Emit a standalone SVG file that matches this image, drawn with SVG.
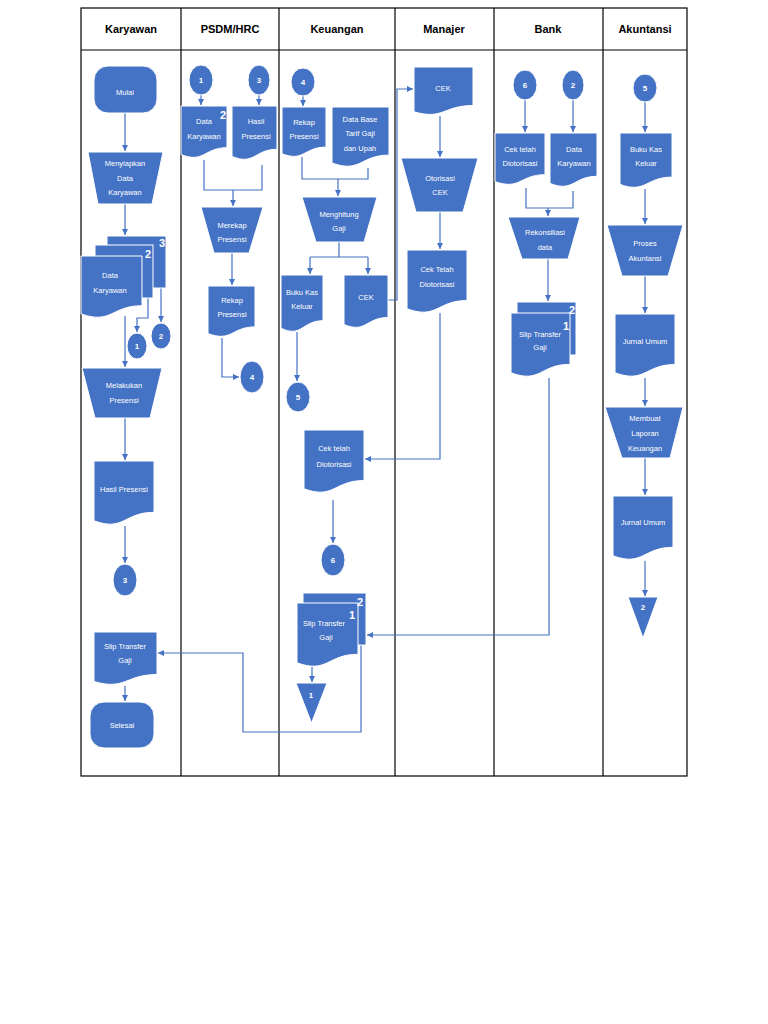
<svg xmlns="http://www.w3.org/2000/svg" width="768" height="1024" viewBox="0 0 768 1024">
<style>
.s{fill:#4472C4;stroke:#ffffff;stroke-width:1}
.t{font-family:"Liberation Sans",Arial,sans-serif;font-size:7.5px;fill:#ffffff;text-anchor:middle}
.n{font-family:"Liberation Sans",Arial,sans-serif;font-size:8px;font-weight:bold;fill:#ffffff;text-anchor:middle}
.b{font-family:"Liberation Sans",Arial,sans-serif;font-size:11px;font-weight:bold;fill:#ffffff;text-anchor:middle}
.h{font-family:"Liberation Sans",Arial,sans-serif;font-size:11px;font-weight:bold;fill:#000000;text-anchor:middle}
.c{fill:none;stroke:#4472C4;stroke-width:1.2}
.g{fill:none;stroke:#000000;stroke-width:1.2}
</style>
<defs>
<marker id="ar" markerWidth="6" markerHeight="6" refX="6" refY="3" orient="auto" markerUnits="userSpaceOnUse">
<path d="M0,0 L6,3 L0,6 Z" fill="#4472C4"/>
</marker>
</defs>
<rect width="768" height="1024" fill="#ffffff"/>
<g id="table">
<rect x="81" y="8" width="606" height="768" class="g"/>
<line x1="81" y1="50" x2="687" y2="50" class="g"/>
<line x1="181" y1="8" x2="181" y2="776" class="g"/>
<line x1="279" y1="8" x2="279" y2="776" class="g"/>
<line x1="395" y1="8" x2="395" y2="776" class="g"/>
<line x1="494" y1="8" x2="494" y2="776" class="g"/>
<line x1="603" y1="8" x2="603" y2="776" class="g"/>
<text x="131" y="33" class="h">Karyawan</text>
<text x="230" y="33" class="h">PSDM/HRC</text>
<text x="337" y="33" class="h">Keuangan</text>
<text x="444" y="33" class="h">Manajer</text>
<text x="548" y="33" class="h">Bank</text>
<text x="645" y="33" class="h">Akuntansi</text>
</g>
<g id="connectors" class="c">
<path d="M125,113 V151" marker-end="url(#ar)"/>
<path d="M125,204 V235" marker-end="url(#ar)"/>
<path d="M148,290 V318 H137 V332" marker-end="url(#ar)"/>
<path d="M161,288 V322" marker-end="url(#ar)"/>
<path d="M125,316 V367" marker-end="url(#ar)"/>
<path d="M125,418 V460" marker-end="url(#ar)"/>
<path d="M125,526 V563" marker-end="url(#ar)"/>
<path d="M125,686 V701" marker-end="url(#ar)"/>
<path d="M361,645 V732 H243 V653 H158" marker-end="url(#ar)"/>
<path d="M201,95 V105" marker-end="url(#ar)"/>
<path d="M259,95 V105" marker-end="url(#ar)"/>
<path d="M204,160 V190 H262 V165"/>
<path d="M233,190 V206" marker-end="url(#ar)"/>
<path d="M232,253 V285" marker-end="url(#ar)"/>
<path d="M222,338 V377 H239" marker-end="url(#ar)"/>
<path d="M303,96 V106" marker-end="url(#ar)"/>
<path d="M302,157 V179 H368 V168"/>
<path d="M338,179 V196" marker-end="url(#ar)"/>
<path d="M339,242 V257"/>
<path d="M310,257 H368"/>
<path d="M310,257 V274" marker-end="url(#ar)"/>
<path d="M368,257 V274" marker-end="url(#ar)"/>
<path d="M388,300 H397 V89 H413" marker-end="url(#ar)"/>
<path d="M297,332 V381" marker-end="url(#ar)"/>
<path d="M440,313 V459 H365" marker-end="url(#ar)"/>
<path d="M333,500 V543" marker-end="url(#ar)"/>
<path d="M312,667 V682" marker-end="url(#ar)"/>
<path d="M549,378 V635 H367" marker-end="url(#ar)"/>
<path d="M440,116 V157" marker-end="url(#ar)"/>
<path d="M440,212 V249" marker-end="url(#ar)"/>
<path d="M525,100 V132" marker-end="url(#ar)"/>
<path d="M573,100 V132" marker-end="url(#ar)"/>
<path d="M526,188 V208 H573 V191"/>
<path d="M548,208 V216" marker-end="url(#ar)"/>
<path d="M548,259 V301" marker-end="url(#ar)"/>
<path d="M645,102 V132" marker-end="url(#ar)"/>
<path d="M645,189 V224" marker-end="url(#ar)"/>
<path d="M645,276 V313" marker-end="url(#ar)"/>
<path d="M645,378 V406" marker-end="url(#ar)"/>
<path d="M645,458 V495" marker-end="url(#ar)"/>
<path d="M645,561 V596" marker-end="url(#ar)"/>
</g>
<g id="k-mulai"><rect x="94" y="66" width="63" height="47" rx="14" class="s"/><text x="125" y="95" class="t">Mulai</text></g>
<g id="k-menyiapkan"><polygon points="88,152 163,152 152,204 98,204" class="s"/><text x="125" y="166" class="t">Menyiapkan</text><text x="125" y="181" class="t">Data</text><text x="125" y="195" class="t">Karyawan</text></g>
<g id="k-datakaryawan">
<rect x="107" y="236" width="59" height="52" class="s"/>
<rect x="95" y="245" width="58" height="53" class="s"/>
<path d="M81,256 H142 V305.7 C111.5,305.7 111.5,324.7 81,313.9 Z" class="s"/>
<text x="162" y="247" class="b">3</text><text x="148" y="258" class="b">2</text>
<text x="110" y="278" class="t">Data</text><text x="110" y="293" class="t">Karyawan</text>
</g>
<g id="k-c1"><ellipse cx="137" cy="346" rx="10" ry="13" class="s"/><text x="137" y="349" class="n">1</text></g>
<g id="k-c2"><ellipse cx="161" cy="336" rx="10" ry="13" class="s"/><text x="161" y="339" class="n">2</text></g>
<g id="k-melakukan"><polygon points="82,368 162,368 150,418 95,418" class="s"/><text x="124" y="388" class="t">Melakukan</text><text x="124" y="403" class="t">Presensi</text></g>
<g id="k-hasil"><path d="M94,461 H154 V512.3 C124,512.3 124,531.9 94,520.8 Z" class="s"/><text x="124" y="492" class="t">Hasil Presensi</text></g>
<g id="k-c3"><ellipse cx="125" cy="580" rx="12" ry="16" class="s"/><text x="125" y="583" class="n">3</text></g>
<g id="k-slip"><path d="M94,632 H157 V674.5 C125.5,674.5 125.5,690.7 94,681.5 Z" class="s"/><text x="125" y="649" class="t">Slip Transfer</text><text x="125" y="663" class="t">Gaji</text></g>
<g id="k-selesai"><rect x="90" y="702" width="64" height="46" rx="14" class="s"/><text x="122" y="728" class="t">Selesai</text></g>
<g id="p-c1"><ellipse cx="201" cy="80" rx="12" ry="15" class="s"/><text x="201" y="83" class="n">1</text></g>
<g id="p-c3"><ellipse cx="259" cy="80" rx="11" ry="15" class="s"/><text x="259" y="83" class="n">3</text></g>
<g id="p-datakaryawan"><path d="M181,106 H227 V147.7 C204,147.7 204,163.6 181,154.6 Z" class="s"/><text x="223" y="119" class="b">2</text><text x="204" y="124" class="t">Data</text><text x="204" y="139" class="t">Karyawan</text></g>
<g id="p-hasil"><path d="M232,106 H277 V149.3 C254.5,149.3 254.5,165.8 232,156.4 Z" class="s"/><text x="256" y="124" class="t">Hasil</text><text x="256" y="139" class="t">Presensi</text></g>
<g id="p-merekap"><polygon points="201,207 263,207 249,253 214,253" class="s"/><text x="232" y="228" class="t">Merekap</text><text x="232" y="242" class="t">Presensi</text></g>
<g id="p-rekap"><path d="M208,286 H255 V326.9 C231.5,326.9 231.5,342.5 208,333.6 Z" class="s"/><text x="232" y="303" class="t">Rekap</text><text x="232" y="317" class="t">Presensi</text></g>
<g id="p-c4"><ellipse cx="252" cy="377" rx="12" ry="16" class="s"/><text x="252" y="380" class="n">4</text></g>
<g id="u-c4"><ellipse cx="303" cy="82" rx="12" ry="14" class="s"/><text x="303" y="85" class="n">4</text></g>
<g id="u-rekap"><path d="M282,107 H326 V147.1 C304,147.1 304,162.4 282,153.7 Z" class="s"/><text x="304" y="125" class="t">Rekap</text><text x="304" y="139" class="t">Presensi</text></g>
<g id="u-database"><path d="M332,107 H389 V155.1 C360.5,155.1 360.5,173.5 332,163 Z" class="s"/><text x="360" y="122" class="t">Data Base</text><text x="360" y="136" class="t">Tarif Gaji</text><text x="360" y="151" class="t">dan Upah</text></g>
<g id="u-menghitung"><polygon points="302,197 377,197 364,242 316,242" class="s"/><text x="339" y="217" class="t">Menghitung</text><text x="339" y="231" class="t">Gaji</text></g>
<g id="u-bukukas"><path d="M281,275 H323 V320.7 C302,320.7 302,338.2 281,328.2 Z" class="s"/><text x="302" y="295" class="t">Buku Kas</text><text x="302" y="309" class="t">Keluar</text></g>
<g id="u-cek"><path d="M344,275 H388 V317.5 C366,317.5 366,333.7 344,324.5 Z" class="s"/><text x="366" y="300" class="t">CEK</text></g>
<g id="u-c5"><ellipse cx="298" cy="397" rx="12" ry="15" class="s"/><text x="298" y="400" class="n">5</text></g>
<g id="u-cektelah"><path d="M304,430 H364 V480.5 C334,480.5 334,499.8 304,488.8 Z" class="s"/><text x="334" y="451" class="t">Cek telah</text><text x="334" y="467" class="t">Diotorisasi</text></g>
<g id="u-c6"><ellipse cx="333" cy="560" rx="12" ry="16" class="s"/><text x="333" y="563" class="n">6</text></g>
<g id="u-slip">
<rect x="303" y="593" width="63" height="52" class="s"/>
<path d="M297,603 H358 V654.3 C327.5,654.3 327.5,673.9 297,662.8 Z" class="s"/>
<text x="360" y="606" class="b">2</text><text x="352" y="619" class="b">1</text>
<text x="324" y="626" class="t">Slip Transfer</text><text x="326" y="640" class="t">Gaji</text>
</g>
<g id="u-off1"><polygon points="296,683 327,683 311.5,723" class="s"/><text x="311" y="698" class="n">1</text></g>
<g id="m-cek"><path d="M414,67 H473 V105.5 C443.5,105.5 443.5,120.2 414,111.8 Z" class="s"/><text x="443" y="91" class="t">CEK</text></g>
<g id="m-otorisasi"><polygon points="401,158 478,158 463,212 416,212" class="s"/><text x="440" y="181" class="t">Otorisasi</text><text x="440" y="195" class="t">CEK</text></g>
<g id="m-cektelah"><path d="M407,250 H467 V300.5 C437,300.5 437,319.8 407,308.8 Z" class="s"/><text x="437" y="272" class="t">Cek Telah</text><text x="437" y="287" class="t">Diotorisasi</text></g>
<g id="b-c6"><ellipse cx="525" cy="85" rx="12" ry="15" class="s"/><text x="525" y="88" class="n">6</text></g>
<g id="b-c2"><ellipse cx="573" cy="85" rx="11" ry="15" class="s"/><text x="573" y="88" class="n">2</text></g>
<g id="b-cektelah"><path d="M495,133 H545 V174.7 C520,174.7 520,190.6 495,181.6 Z" class="s"/><text x="520" y="152" class="t">Cek telah</text><text x="520" y="166" class="t">Diotorisasi</text></g>
<g id="b-datakaryawan"><path d="M550,133 H597 V176.3 C573.5,176.3 573.5,192.8 550,183.4 Z" class="s"/><text x="574" y="152" class="t">Data</text><text x="574" y="166" class="t">Karyawan</text></g>
<g id="b-rekonsiliasi"><polygon points="508,217 580,217 568,259 522,259" class="s"/><text x="545" y="235" class="t">Rekonsiliasi</text><text x="545" y="250" class="t">data</text></g>
<g id="b-slip">
<rect x="517" y="302" width="59" height="53" class="s"/>
<path d="M511,313 H570 V364.3 C540.5,364.3 540.5,383.9 511,372.8 Z" class="s"/>
<text x="572" y="314" class="b">2</text><text x="566" y="330" class="b">1</text>
<text x="540" y="337" class="t">Slip Transfer</text><text x="540" y="350" class="t">Gaji</text>
</g>
<g id="a-c5"><ellipse cx="645" cy="88" rx="12" ry="14" class="s"/><text x="645" y="91" class="n">5</text></g>
<g id="a-bukukas"><path d="M620,133 H672 V177.1 C646,177.1 646,193.9 620,184.4 Z" class="s"/><text x="646" y="152" class="t">Buku Kas</text><text x="646" y="166" class="t">Keluar</text></g>
<g id="a-proses"><polygon points="607,225 683,225 668,276 622,276" class="s"/><text x="645" y="246" class="t">Proses</text><text x="645" y="261" class="t">Akuntansi</text></g>
<g id="a-jurnal1"><path d="M615,314 H675 V364.5 C645,364.5 645,383.8 615,372.8 Z" class="s"/><text x="645" y="344" class="t">Jurnal Umum</text></g>
<g id="a-membuat"><polygon points="605,407 683,407 670,458 622,458" class="s"/><text x="645" y="421" class="t">Membuat</text><text x="645" y="436" class="t">Laporan</text><text x="645" y="451" class="t">Keuangan</text></g>
<g id="a-jurnal2"><path d="M613,496 H673 V547.3 C643,547.3 643,566.9 613,555.8 Z" class="s"/><text x="643" y="525" class="t">Jurnal Umum</text></g>
<g id="a-off2"><polygon points="628,597 658,597 643,638" class="s"/><text x="643" y="610" class="n">2</text></g>
</svg>
